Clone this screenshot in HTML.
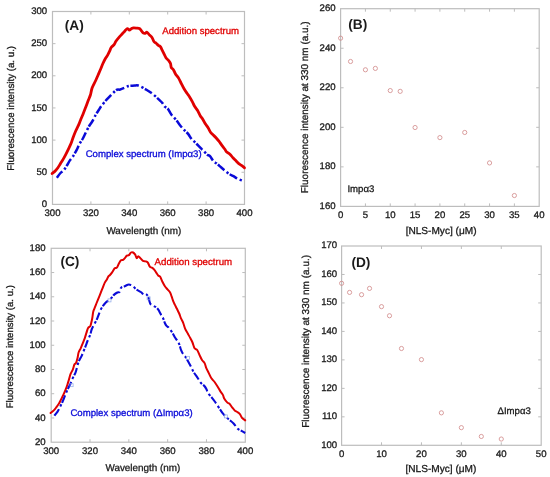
<!DOCTYPE html>
<html><head><meta charset="utf-8"><title>Fluorescence spectra</title><style>html,body{margin:0;padding:0;background:#fff;}svg{display:block;}</style></head><body>
<svg width="550" height="477" viewBox="0 0 550 477" font-family='"Liberation Sans", Arial, sans-serif' font-size="9.6" fill="#1a1a1a" text-rendering="geometricPrecision" stroke-width="0.3">
<rect width="550" height="477" fill="#fff"/>
<rect x="52.5" y="11.5" width="192.00" height="192.90" fill="none" stroke="#bdbdbd" stroke-width="1.2"/>
<path d="M90.90 204.4v-3M90.90 11.5v3M129.30 204.4v-3M129.30 11.5v3M167.70 204.4v-3M167.70 11.5v3M206.10 204.4v-3M206.10 11.5v3M52.5 172.25h3M244.5 172.25h-3M52.5 140.10h3M244.5 140.10h-3M52.5 107.95h3M244.5 107.95h-3M52.5 75.80h3M244.5 75.80h-3M52.5 43.65h3M244.5 43.65h-3" stroke="#bdbdbd" stroke-width="1" fill="none"/>
<text x="52.50" y="216.30" text-anchor="middle" stroke="#1a1a1a">300</text>
<text x="90.90" y="216.30" text-anchor="middle" stroke="#1a1a1a">320</text>
<text x="129.30" y="216.30" text-anchor="middle" stroke="#1a1a1a">340</text>
<text x="167.70" y="216.30" text-anchor="middle" stroke="#1a1a1a">360</text>
<text x="206.10" y="216.30" text-anchor="middle" stroke="#1a1a1a">380</text>
<text x="244.50" y="216.30" text-anchor="middle" stroke="#1a1a1a">400</text>
<text x="47.20" y="207.00" text-anchor="end" stroke="#1a1a1a">0</text>
<text x="47.20" y="174.85" text-anchor="end" stroke="#1a1a1a">50</text>
<text x="47.20" y="142.70" text-anchor="end" stroke="#1a1a1a">100</text>
<text x="47.20" y="110.55" text-anchor="end" stroke="#1a1a1a">150</text>
<text x="47.20" y="78.40" text-anchor="end" stroke="#1a1a1a">200</text>
<text x="47.20" y="46.25" text-anchor="end" stroke="#1a1a1a">250</text>
<text x="47.20" y="14.10" text-anchor="end" stroke="#1a1a1a">300</text>
<rect x="340.6" y="8.7" width="198.60" height="197.70" fill="none" stroke="#bdbdbd" stroke-width="1.2"/>
<path d="M365.43 206.4v-3M365.43 8.7v3M390.25 206.4v-3M390.25 8.7v3M415.08 206.4v-3M415.08 8.7v3M439.90 206.4v-3M439.90 8.7v3M464.73 206.4v-3M464.73 8.7v3M489.55 206.4v-3M489.55 8.7v3M514.38 206.4v-3M514.38 8.7v3M340.6 166.86h3M539.2 166.86h-3M340.6 127.32h3M539.2 127.32h-3M340.6 87.78h3M539.2 87.78h-3M340.6 48.24h3M539.2 48.24h-3" stroke="#bdbdbd" stroke-width="1" fill="none"/>
<text x="340.60" y="218.30" text-anchor="middle" stroke="#1a1a1a">0</text>
<text x="365.43" y="218.30" text-anchor="middle" stroke="#1a1a1a">5</text>
<text x="390.25" y="218.30" text-anchor="middle" stroke="#1a1a1a">10</text>
<text x="415.08" y="218.30" text-anchor="middle" stroke="#1a1a1a">15</text>
<text x="439.90" y="218.30" text-anchor="middle" stroke="#1a1a1a">20</text>
<text x="464.73" y="218.30" text-anchor="middle" stroke="#1a1a1a">25</text>
<text x="489.55" y="218.30" text-anchor="middle" stroke="#1a1a1a">30</text>
<text x="514.38" y="218.30" text-anchor="middle" stroke="#1a1a1a">35</text>
<text x="539.20" y="218.30" text-anchor="middle" stroke="#1a1a1a">40</text>
<text x="335.60" y="209.00" text-anchor="end" stroke="#1a1a1a">160</text>
<text x="335.60" y="169.46" text-anchor="end" stroke="#1a1a1a">180</text>
<text x="335.60" y="129.92" text-anchor="end" stroke="#1a1a1a">200</text>
<text x="335.60" y="90.38" text-anchor="end" stroke="#1a1a1a">220</text>
<text x="335.60" y="50.84" text-anchor="end" stroke="#1a1a1a">240</text>
<text x="335.60" y="11.30" text-anchor="end" stroke="#1a1a1a">260</text>
<rect x="51.2" y="248.3" width="194.10" height="193.90" fill="none" stroke="#bdbdbd" stroke-width="1.2"/>
<path d="M90.02 442.2v-3M90.02 248.3v3M128.84 442.2v-3M128.84 248.3v3M167.66 442.2v-3M167.66 248.3v3M206.48 442.2v-3M206.48 248.3v3M51.2 417.96h3M245.3 417.96h-3M51.2 393.73h3M245.3 393.73h-3M51.2 369.49h3M245.3 369.49h-3M51.2 345.25h3M245.3 345.25h-3M51.2 321.01h3M245.3 321.01h-3M51.2 296.77h3M245.3 296.77h-3M51.2 272.54h3M245.3 272.54h-3" stroke="#bdbdbd" stroke-width="1" fill="none"/>
<text x="51.20" y="454.10" text-anchor="middle" stroke="#1a1a1a">300</text>
<text x="90.02" y="454.10" text-anchor="middle" stroke="#1a1a1a">320</text>
<text x="128.84" y="454.10" text-anchor="middle" stroke="#1a1a1a">340</text>
<text x="167.66" y="454.10" text-anchor="middle" stroke="#1a1a1a">360</text>
<text x="206.48" y="454.10" text-anchor="middle" stroke="#1a1a1a">380</text>
<text x="245.30" y="454.10" text-anchor="middle" stroke="#1a1a1a">400</text>
<text x="45.60" y="444.80" text-anchor="end" stroke="#1a1a1a">20</text>
<text x="45.60" y="420.56" text-anchor="end" stroke="#1a1a1a">40</text>
<text x="45.60" y="396.33" text-anchor="end" stroke="#1a1a1a">60</text>
<text x="45.60" y="372.09" text-anchor="end" stroke="#1a1a1a">80</text>
<text x="45.60" y="347.85" text-anchor="end" stroke="#1a1a1a">100</text>
<text x="45.60" y="323.61" text-anchor="end" stroke="#1a1a1a">120</text>
<text x="45.60" y="299.38" text-anchor="end" stroke="#1a1a1a">140</text>
<text x="45.60" y="275.14" text-anchor="end" stroke="#1a1a1a">160</text>
<text x="45.60" y="250.90" text-anchor="end" stroke="#1a1a1a">180</text>
<rect x="341.6" y="246.0" width="199.60" height="199.30" fill="none" stroke="#bdbdbd" stroke-width="1.2"/>
<path d="M381.52 445.3v-3M381.52 246.0v3M421.44 445.3v-3M421.44 246.0v3M461.36 445.3v-3M461.36 246.0v3M501.28 445.3v-3M501.28 246.0v3M341.6 416.83h3M541.2 416.83h-3M341.6 388.36h3M541.2 388.36h-3M341.6 359.89h3M541.2 359.89h-3M341.6 331.41h3M541.2 331.41h-3M341.6 302.94h3M541.2 302.94h-3M341.6 274.47h3M541.2 274.47h-3" stroke="#bdbdbd" stroke-width="1" fill="none"/>
<text x="341.60" y="457.20" text-anchor="middle" stroke="#1a1a1a">0</text>
<text x="381.52" y="457.20" text-anchor="middle" stroke="#1a1a1a">10</text>
<text x="421.44" y="457.20" text-anchor="middle" stroke="#1a1a1a">20</text>
<text x="461.36" y="457.20" text-anchor="middle" stroke="#1a1a1a">30</text>
<text x="501.28" y="457.20" text-anchor="middle" stroke="#1a1a1a">40</text>
<text x="541.20" y="457.20" text-anchor="middle" stroke="#1a1a1a">50</text>
<text x="337.20" y="447.50" text-anchor="end" stroke="#1a1a1a">100</text>
<text x="337.20" y="419.03" text-anchor="end" stroke="#1a1a1a">110</text>
<text x="337.20" y="390.56" text-anchor="end" stroke="#1a1a1a">120</text>
<text x="337.20" y="362.09" text-anchor="end" stroke="#1a1a1a">130</text>
<text x="337.20" y="333.61" text-anchor="end" stroke="#1a1a1a">140</text>
<text x="337.20" y="305.14" text-anchor="end" stroke="#1a1a1a">150</text>
<text x="337.20" y="276.67" text-anchor="end" stroke="#1a1a1a">160</text>
<text x="337.20" y="248.20" text-anchor="end" stroke="#1a1a1a">170</text>
<path d="M52.10 173.50C52.62 173.07 54.23 171.87 55.20 170.90C56.17 169.93 57.02 168.93 57.90 167.70C58.78 166.47 59.63 164.88 60.50 163.50C61.37 162.12 62.23 160.88 63.10 159.40C63.97 157.92 64.83 156.27 65.70 154.60C66.57 152.93 67.42 151.23 68.30 149.40C69.18 147.57 70.20 145.58 71.00 143.60C71.80 141.62 72.30 139.63 73.10 137.50C73.90 135.37 74.92 132.82 75.80 130.80C76.68 128.78 77.62 127.17 78.40 125.40C79.18 123.63 79.72 122.12 80.50 120.20C81.28 118.28 82.23 116.07 83.10 113.90C83.97 111.73 84.83 109.47 85.70 107.20C86.57 104.93 87.52 102.33 88.30 100.30C89.08 98.27 89.77 97.05 90.40 95.00C91.03 92.95 91.22 90.42 92.10 88.00C92.98 85.58 94.70 82.67 95.70 80.50C96.70 78.33 97.27 76.92 98.10 75.00C98.93 73.08 99.92 70.87 100.70 69.00C101.48 67.13 102.02 65.55 102.80 63.80C103.58 62.05 104.62 59.90 105.40 58.50C106.18 57.10 106.80 56.62 107.50 55.40C108.20 54.18 108.98 52.52 109.60 51.20C110.22 49.88 110.42 48.63 111.20 47.50C111.98 46.37 113.52 45.45 114.30 44.40C115.08 43.35 115.12 42.38 115.90 41.20C116.68 40.02 117.97 38.50 119.00 37.30C120.03 36.10 121.15 35.02 122.10 34.00C123.05 32.98 123.83 32.10 124.70 31.20C125.57 30.30 126.52 28.77 127.30 28.60C128.08 28.43 128.70 30.20 129.40 30.20C130.10 30.20 130.80 29.00 131.50 28.60C132.20 28.20 132.72 27.88 133.60 27.80C134.48 27.72 135.83 27.97 136.80 28.10C137.77 28.23 138.70 28.25 139.40 28.60C140.10 28.95 140.38 29.50 141.00 30.20C141.62 30.90 142.40 32.28 143.10 32.80C143.80 33.32 144.55 33.40 145.20 33.30C145.85 33.20 146.30 31.93 147.00 32.20C147.70 32.47 148.57 34.02 149.40 34.90C150.23 35.78 151.22 36.37 152.00 37.50C152.78 38.63 153.40 40.73 154.10 41.70C154.80 42.67 155.50 42.68 156.20 43.30C156.90 43.92 157.60 44.85 158.30 45.40C159.00 45.95 159.80 45.90 160.40 46.60C161.00 47.30 161.30 48.40 161.90 49.60C162.50 50.80 163.30 52.40 164.00 53.80C164.70 55.20 165.32 56.87 166.10 58.00C166.88 59.13 167.97 59.68 168.70 60.60C169.43 61.52 170.07 62.33 170.50 63.50C170.93 64.67 170.82 66.57 171.30 67.60C171.78 68.63 172.70 68.65 173.40 69.70C174.10 70.75 174.63 72.50 175.50 73.90C176.37 75.30 177.65 76.53 178.60 78.10C179.55 79.67 180.32 81.57 181.20 83.30C182.08 85.03 182.93 86.83 183.90 88.50C184.87 90.17 186.05 91.90 187.00 93.30C187.95 94.70 188.72 95.52 189.60 96.90C190.48 98.28 191.47 100.03 192.30 101.60C193.13 103.17 193.72 104.82 194.60 106.30C195.48 107.78 196.67 108.93 197.60 110.50C198.53 112.07 199.32 114.22 200.20 115.70C201.08 117.18 202.02 118.00 202.90 119.40C203.78 120.80 204.63 122.70 205.50 124.10C206.37 125.50 207.23 126.40 208.10 127.80C208.97 129.20 209.92 131.37 210.70 132.50C211.48 133.63 211.92 133.73 212.80 134.60C213.68 135.47 214.95 136.57 216.00 137.70C217.05 138.83 218.15 140.17 219.10 141.40C220.05 142.63 220.73 143.78 221.70 145.10C222.67 146.42 224.07 148.13 224.90 149.30C225.73 150.47 225.87 151.28 226.70 152.10C227.53 152.92 228.85 153.25 229.90 154.20C230.95 155.15 231.95 156.67 233.00 157.80C234.05 158.93 235.23 160.03 236.20 161.00C237.17 161.97 237.85 162.82 238.80 163.60C239.75 164.38 240.95 165.00 241.90 165.70C242.85 166.40 244.07 167.45 244.50 167.80" fill="none" stroke="#e00000" stroke-width="2.8" stroke-linejoin="round" stroke-linecap="round"/>
<path d="M56.80 177.70C57.42 176.92 59.37 174.22 60.50 173.00C61.63 171.78 62.55 171.63 63.60 170.40C64.65 169.17 65.75 167.27 66.80 165.60C67.85 163.93 68.85 161.97 69.90 160.40C70.95 158.83 71.97 157.95 73.10 156.20C74.23 154.45 75.65 151.95 76.70 149.90C77.75 147.85 78.42 145.72 79.40 143.90C80.38 142.08 81.55 140.87 82.60 139.00C83.65 137.13 84.65 134.78 85.70 132.70C86.75 130.62 87.77 128.45 88.90 126.50C90.03 124.55 91.37 122.95 92.50 121.00C93.63 119.05 94.65 116.63 95.70 114.80C96.75 112.97 97.85 111.47 98.80 110.00C99.75 108.53 100.27 107.53 101.40 106.00C102.53 104.47 104.20 102.40 105.60 100.80C107.00 99.20 108.30 97.95 109.80 96.40C111.30 94.85 113.38 92.62 114.60 91.50C115.82 90.38 116.17 90.03 117.10 89.70C118.03 89.37 118.80 89.88 120.20 89.50C121.60 89.12 124.10 87.98 125.50 87.40C126.90 86.82 127.55 86.28 128.60 86.00C129.65 85.72 130.75 85.78 131.80 85.70C132.85 85.62 133.85 85.53 134.90 85.50C135.95 85.47 136.87 85.18 138.10 85.50C139.33 85.82 140.92 86.70 142.30 87.40C143.68 88.10 145.18 88.97 146.40 89.70C147.62 90.43 148.37 90.93 149.60 91.80C150.83 92.67 152.23 93.60 153.80 94.90C155.37 96.20 157.60 98.28 159.00 99.60C160.40 100.92 161.28 101.68 162.20 102.80C163.12 103.92 163.55 105.28 164.50 106.30C165.45 107.32 166.73 107.50 167.90 108.90C169.07 110.30 170.20 112.95 171.50 114.70C172.80 116.45 174.22 117.57 175.70 119.40C177.18 121.23 178.92 123.87 180.40 125.70C181.88 127.53 183.28 129.00 184.60 130.40C185.92 131.80 187.17 132.70 188.30 134.10C189.43 135.50 190.35 137.50 191.40 138.80C192.45 140.10 193.37 140.68 194.60 141.90C195.83 143.12 197.58 144.87 198.80 146.10C200.02 147.33 201.00 148.40 201.90 149.30C202.80 150.20 203.30 150.60 204.20 151.50C205.10 152.40 206.33 153.92 207.30 154.70C208.27 155.48 208.95 155.07 210.00 156.20C211.05 157.33 212.47 160.27 213.60 161.50C214.73 162.73 215.57 162.63 216.80 163.60C218.03 164.57 219.60 166.08 221.00 167.30C222.40 168.52 223.80 169.77 225.20 170.90C226.60 172.03 228.02 173.22 229.40 174.10C230.78 174.98 232.12 175.42 233.50 176.20C234.88 176.98 236.30 178.10 237.70 178.80C239.10 179.50 241.20 180.13 241.90 180.40" fill="none" stroke="#0a0ad8" stroke-width="2.5" stroke-dasharray="8.5 2.8 2.3 1.6" stroke-linecap="butt"/>
<path d="M50.60 413.00C51.13 412.57 52.83 411.37 53.80 410.40C54.77 409.43 55.53 408.35 56.40 407.20C57.27 406.05 58.22 404.80 59.00 403.50C59.78 402.20 60.40 400.78 61.10 399.40C61.80 398.02 62.50 396.70 63.20 395.20C63.90 393.70 64.60 392.15 65.30 390.40C66.00 388.65 66.78 386.53 67.40 384.70C68.02 382.87 68.48 381.15 69.00 379.40C69.52 377.65 69.85 375.88 70.50 374.20C71.15 372.52 72.25 370.92 72.90 369.30C73.55 367.68 73.88 365.55 74.40 364.50C74.92 363.45 75.47 364.13 76.00 363.00C76.53 361.87 77.17 359.45 77.60 357.70C78.03 355.95 78.08 354.07 78.60 352.50C79.12 350.93 80.00 349.87 80.70 348.30C81.40 346.73 82.10 344.85 82.80 343.10C83.50 341.35 84.28 339.55 84.90 337.80C85.52 336.05 85.97 334.25 86.50 332.60C87.03 330.95 87.48 328.95 88.10 327.90C88.72 326.85 89.68 327.10 90.20 326.30C90.72 325.50 90.85 324.48 91.20 323.10C91.55 321.72 91.97 319.87 92.30 318.00C92.63 316.13 92.87 313.43 93.20 311.90C93.53 310.37 93.77 310.20 94.30 308.80C94.83 307.40 95.70 305.25 96.40 303.50C97.10 301.75 97.80 300.03 98.50 298.30C99.20 296.57 99.90 294.85 100.60 293.10C101.30 291.35 102.00 289.55 102.70 287.80C103.40 286.05 104.10 284.00 104.80 282.60C105.50 281.20 106.30 280.45 106.90 279.40C107.50 278.35 107.88 277.03 108.40 276.30C108.92 275.57 109.38 275.65 110.00 275.00C110.62 274.35 111.32 273.53 112.10 272.40C112.88 271.27 113.92 268.98 114.70 268.20C115.48 267.42 116.10 268.48 116.80 267.70C117.50 266.92 118.20 264.73 118.90 263.50C119.60 262.27 120.30 260.92 121.00 260.30C121.70 259.68 122.40 260.23 123.10 259.80C123.80 259.37 124.58 258.40 125.20 257.70C125.82 257.00 126.18 256.03 126.80 255.60C127.42 255.17 128.20 255.62 128.90 255.10C129.60 254.58 130.30 252.93 131.00 252.50C131.70 252.07 132.40 252.15 133.10 252.50C133.80 252.85 134.60 253.65 135.20 254.60C135.80 255.55 136.18 257.93 136.70 258.20C137.22 258.47 137.68 256.20 138.30 256.20C138.92 256.20 139.62 257.42 140.40 258.20C141.18 258.98 142.13 260.37 143.00 260.90C143.87 261.43 144.82 261.15 145.60 261.40C146.38 261.65 147.00 261.53 147.70 262.40C148.40 263.27 149.10 265.72 149.80 266.60C150.50 267.48 151.20 267.25 151.90 267.70C152.60 268.15 153.30 268.52 154.00 269.30C154.70 270.08 155.40 271.37 156.10 272.40C156.80 273.43 157.52 274.77 158.20 275.50C158.88 276.23 159.52 275.80 160.20 276.80C160.88 277.80 161.52 279.93 162.30 281.50C163.08 283.07 164.03 284.88 164.90 286.20C165.77 287.52 166.63 288.35 167.50 289.40C168.37 290.45 169.40 291.28 170.10 292.50C170.80 293.72 171.17 295.22 171.70 296.70C172.23 298.18 172.78 300.08 173.30 301.40C173.82 302.72 174.20 303.37 174.80 304.60C175.40 305.83 176.17 307.32 176.90 308.80C177.63 310.28 178.52 311.90 179.20 313.50C179.88 315.10 180.35 316.88 181.00 318.40C181.65 319.92 182.40 320.85 183.10 322.60C183.80 324.35 184.42 327.07 185.20 328.90C185.98 330.73 186.93 332.03 187.80 333.60C188.67 335.17 189.62 336.82 190.40 338.30C191.18 339.78 191.80 340.83 192.50 342.50C193.20 344.17 193.82 347.05 194.60 348.30C195.38 349.55 196.40 348.93 197.20 350.00C198.00 351.07 198.60 353.03 199.40 354.70C200.20 356.37 201.13 358.60 202.00 360.00C202.87 361.40 203.90 361.80 204.60 363.10C205.30 364.40 205.50 366.13 206.20 367.80C206.90 369.47 207.93 371.35 208.80 373.10C209.67 374.85 210.43 376.82 211.40 378.30C212.37 379.78 213.55 380.60 214.60 382.00C215.65 383.40 216.73 385.13 217.70 386.70C218.67 388.27 219.52 390.00 220.40 391.40C221.28 392.80 222.37 393.93 223.00 395.10C223.63 396.27 223.47 397.15 224.20 398.40C224.93 399.65 226.53 401.73 227.40 402.60C228.27 403.47 228.62 402.82 229.40 403.60C230.18 404.38 231.22 406.17 232.10 407.30C232.98 408.43 233.83 409.62 234.70 410.40C235.57 411.18 236.43 411.38 237.30 412.00C238.17 412.62 239.12 413.13 239.90 414.10C240.68 415.07 241.12 416.75 242.00 417.80C242.88 418.85 244.67 419.97 245.20 420.40" fill="none" stroke="#e00000" stroke-width="2.0" stroke-linejoin="round" stroke-linecap="round"/>
<path d="M54.30 415.60C54.82 414.98 56.43 413.38 57.40 411.90C58.37 410.42 59.30 408.27 60.10 406.70C60.90 405.13 61.42 404.25 62.20 402.50C62.98 400.75 63.93 398.30 64.80 396.20C65.67 394.10 66.53 391.82 67.40 389.90C68.27 387.98 69.13 386.62 70.00 384.70C70.87 382.78 71.72 380.33 72.60 378.40C73.48 376.47 74.65 374.62 75.30 373.10C75.95 371.58 75.95 371.17 76.50 369.30C77.05 367.43 77.72 364.18 78.60 361.90C79.48 359.62 80.92 357.52 81.80 355.60C82.68 353.68 83.20 352.13 83.90 350.40C84.60 348.67 85.40 346.77 86.00 345.20C86.60 343.63 86.80 342.75 87.50 341.00C88.20 339.25 89.50 336.63 90.20 334.70C90.90 332.77 91.10 330.98 91.70 329.40C92.30 327.82 92.93 326.88 93.80 325.20C94.67 323.52 96.12 320.98 96.90 319.30C97.68 317.62 97.88 316.68 98.50 315.10C99.12 313.52 99.82 311.38 100.60 309.80C101.38 308.22 102.33 306.82 103.20 305.60C104.07 304.38 104.93 303.37 105.80 302.50C106.67 301.63 107.43 301.18 108.40 300.40C109.37 299.62 110.63 298.77 111.60 297.80C112.57 296.83 113.23 295.48 114.20 294.60C115.17 293.72 116.53 292.93 117.40 292.50C118.27 292.07 118.88 292.60 119.40 292.00C119.92 291.40 120.15 289.68 120.50 288.90C120.85 288.12 120.80 287.75 121.50 287.30C122.20 286.85 123.65 286.63 124.70 286.20C125.75 285.77 126.93 284.95 127.80 284.70C128.67 284.45 129.02 284.45 129.90 284.70C130.78 284.95 132.05 285.42 133.10 286.20C134.15 286.98 134.92 288.43 136.20 289.40C137.48 290.37 139.52 291.13 140.80 292.00C142.08 292.87 143.03 294.25 143.90 294.60C144.77 294.95 145.30 293.75 146.00 294.10C146.70 294.45 147.40 295.13 148.10 296.70C148.80 298.27 149.42 302.02 150.20 303.50C150.98 304.98 151.83 304.98 152.80 305.60C153.77 306.22 155.12 306.58 156.00 307.20C156.88 307.82 157.50 308.52 158.10 309.30C158.70 310.08 159.00 310.77 159.60 311.90C160.20 313.03 161.08 314.97 161.70 316.10C162.32 317.23 162.80 317.62 163.30 318.70C163.80 319.78 164.20 321.43 164.70 322.60C165.20 323.77 165.60 324.83 166.30 325.70C167.00 326.57 167.85 326.57 168.90 327.80C169.95 329.03 171.55 331.43 172.60 333.10C173.65 334.77 174.33 336.42 175.20 337.80C176.07 339.18 177.10 340.27 177.80 341.40C178.50 342.53 178.87 343.20 179.40 344.60C179.93 346.00 180.38 348.23 181.00 349.80C181.62 351.37 182.32 352.77 183.10 354.00C183.88 355.23 184.90 356.03 185.70 357.20C186.50 358.37 187.02 359.40 187.90 361.00C188.78 362.60 190.05 364.97 191.00 366.80C191.95 368.63 192.55 370.25 193.60 372.00C194.65 373.75 196.07 375.47 197.30 377.30C198.53 379.13 199.78 381.52 201.00 383.00C202.22 384.48 203.65 385.07 204.60 386.20C205.55 387.33 206.13 388.65 206.70 389.80C207.27 390.95 207.18 391.85 208.00 393.10C208.82 394.35 210.47 395.90 211.60 397.30C212.73 398.70 213.57 399.75 214.80 401.50C216.03 403.25 217.70 405.87 219.00 407.80C220.30 409.73 221.47 411.62 222.60 413.10C223.73 414.58 224.67 415.57 225.80 416.70C226.93 417.83 228.10 418.77 229.40 419.90C230.70 421.03 232.20 422.02 233.60 423.50C235.00 424.98 236.48 427.57 237.80 428.80C239.12 430.03 240.27 430.20 241.50 430.90C242.73 431.60 244.58 432.65 245.20 433.00" fill="none" stroke="#0a0ad8" stroke-width="2.1" stroke-dasharray="8 3 2.5 1.5" stroke-linecap="butt"/>
<rect x="70.1" y="383.7" width="3" height="3" fill="none" stroke="#8fa8e8" stroke-width="0.7"/>
<rect x="108.0" y="298.9" width="3" height="3" fill="none" stroke="#8fa8e8" stroke-width="0.7"/>
<rect x="147.1" y="296.8" width="3" height="3" fill="none" stroke="#8fa8e8" stroke-width="0.7"/>
<rect x="186.6" y="356.3" width="3" height="3" fill="none" stroke="#8fa8e8" stroke-width="0.7"/>
<rect x="224.3" y="414.9" width="3" height="3" fill="none" stroke="#8fa8e8" stroke-width="0.7"/>
<circle cx="340.60" cy="38.16" r="2.1" fill="none" stroke="#d08888" stroke-width="0.8"/>
<circle cx="350.53" cy="61.49" r="2.1" fill="none" stroke="#d08888" stroke-width="0.8"/>
<circle cx="365.43" cy="69.79" r="2.1" fill="none" stroke="#d08888" stroke-width="0.8"/>
<circle cx="375.36" cy="68.41" r="2.1" fill="none" stroke="#d08888" stroke-width="0.8"/>
<circle cx="390.25" cy="90.55" r="2.1" fill="none" stroke="#d08888" stroke-width="0.8"/>
<circle cx="400.18" cy="91.34" r="2.1" fill="none" stroke="#d08888" stroke-width="0.8"/>
<circle cx="415.08" cy="127.52" r="2.1" fill="none" stroke="#d08888" stroke-width="0.8"/>
<circle cx="439.90" cy="137.60" r="2.1" fill="none" stroke="#d08888" stroke-width="0.8"/>
<circle cx="464.73" cy="132.46" r="2.1" fill="none" stroke="#d08888" stroke-width="0.8"/>
<circle cx="489.55" cy="162.91" r="2.1" fill="none" stroke="#d08888" stroke-width="0.8"/>
<circle cx="514.38" cy="195.53" r="2.1" fill="none" stroke="#d08888" stroke-width="0.8"/>
<circle cx="341.60" cy="283.30" r="2.1" fill="none" stroke="#d08888" stroke-width="0.8"/>
<circle cx="349.58" cy="292.41" r="2.1" fill="none" stroke="#d08888" stroke-width="0.8"/>
<circle cx="361.56" cy="294.69" r="2.1" fill="none" stroke="#d08888" stroke-width="0.8"/>
<circle cx="369.54" cy="288.42" r="2.1" fill="none" stroke="#d08888" stroke-width="0.8"/>
<circle cx="381.52" cy="306.64" r="2.1" fill="none" stroke="#d08888" stroke-width="0.8"/>
<circle cx="389.50" cy="315.75" r="2.1" fill="none" stroke="#d08888" stroke-width="0.8"/>
<circle cx="401.48" cy="348.50" r="2.1" fill="none" stroke="#d08888" stroke-width="0.8"/>
<circle cx="421.44" cy="359.60" r="2.1" fill="none" stroke="#d08888" stroke-width="0.8"/>
<circle cx="441.40" cy="412.84" r="2.1" fill="none" stroke="#d08888" stroke-width="0.8"/>
<circle cx="461.36" cy="427.65" r="2.1" fill="none" stroke="#d08888" stroke-width="0.8"/>
<circle cx="481.32" cy="436.47" r="2.1" fill="none" stroke="#d08888" stroke-width="0.8"/>
<circle cx="501.28" cy="439.04" r="2.1" fill="none" stroke="#d08888" stroke-width="0.8"/>
<g font-weight="bold" font-size="13.7" stroke-width="0">
<text x="64.7" y="29.6" stroke="#1a1a1a">(A)</text>
<text x="348.3" y="29.0" stroke="#1a1a1a">(B)</text>
<text x="60.4" y="266.0" stroke="#1a1a1a">(C)</text>
<text x="351.4" y="267.0" stroke="#1a1a1a">(D)</text>
</g>
<text x="162.3" y="34.2" fill="#e00000" stroke="#e00000">Addition spectrum</text>
<text x="85.7" y="157" fill="#0a0ad8" stroke="#0a0ad8">Complex spectrum (Impα3)</text>
<text x="154.6" y="265.1" fill="#e00000" font-size="9.7" stroke="#e00000">Addition spectrum</text>
<text x="70.4" y="415.8" fill="#0a0ad8" stroke="#0a0ad8">Complex spectrum (ΔImpα3)</text>
<text x="347.4" y="192.2" stroke="#1a1a1a">Impα3</text>
<text x="497.5" y="413.5" stroke="#1a1a1a">ΔImpα3</text>
<text x="143.8" y="234.2" text-anchor="middle" font-size="9.9" stroke="#1a1a1a">Wavelength (nm)</text>
<text x="142.9" y="471.0" text-anchor="middle" font-size="9.9" stroke="#1a1a1a">Wavelength (nm)</text>
<text x="441.1" y="234" text-anchor="middle" font-size="10.1" stroke="#1a1a1a">[NLS-Myc] (μM)</text>
<text x="440.9" y="472.2" text-anchor="middle" font-size="10.1" stroke="#1a1a1a">[NLS-Myc] (μM)</text>
<text transform="translate(14.2 170.7) rotate(-90)" font-size="9.72" stroke="#1a1a1a">Fluorescence intensity (a. u.)</text>
<text transform="translate(13.0 408.3) rotate(-90)" font-size="9.6" stroke="#1a1a1a">Fluorescence intensity (a. u.)</text>
<text transform="translate(308.4 193.2) rotate(-90)" font-size="9.95" stroke="#1a1a1a">Fluorescence intensity at 330 nm (a.u.)</text>
<text transform="translate(308.9 427.8) rotate(-90)" font-size="10.0" stroke="#1a1a1a">Fluorescence intensity at 330 nm (a.u.)</text>
</svg>
</body></html>
